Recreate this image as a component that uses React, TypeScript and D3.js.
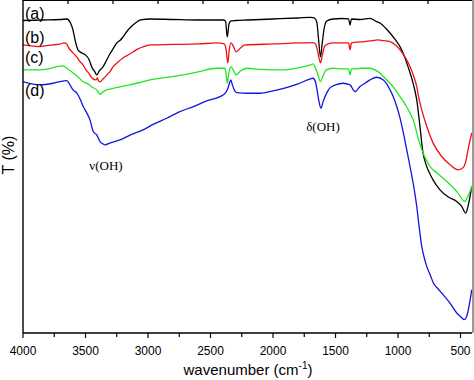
import React from 'react';
import * as d3 from 'd3';

const WIDTH = 474;
const HEIGHT = 380;

// x ticks (wavenumber, cm-1)
const majorTicks = [4000, 3500, 3000, 2500, 2000, 1500, 1000, 500];
const minorTicks = [3750, 3250, 2750, 2250, 1750, 1250, 750];
const topTicks = [1, 2, 3, 4, 5, 6, 7, 8, 9];

const seriesLabels = ['(a)', '(b)', '(c)', '(d)'];
const seriesColors = ['#000000', '#ee1111', '#22e622', '#1414dc'];

// [wavenumber, T (arb. %)]
const seriesA: [number, number][] = [
  [4000, 93.85], [3850, 94.0], [3700, 94.15], [3650, 94.3], [3620, 93.1], [3600, 91.0], [3580, 87.4],
  [3560, 85.0], [3530, 84.1], [3500, 83.5], [3470, 82.0], [3450, 79.9], [3425, 78.4], [3410, 77.5],
  [3390, 78.7], [3360, 79.9], [3330, 82.0], [3300, 84.1], [3275, 85.6], [3250, 87.1], [3220, 88.0],
  [3200, 88.9], [3160, 91.0], [3120, 92.5], [3090, 93.4], [3060, 94.0], [2980, 94.3], [2800, 94.15],
  [2600, 94.0], [2400, 94.0], [2380, 93.7], [2366, 88.9], [2352, 92.8], [2336, 93.7], [2300, 93.85],
  [2200, 94.0], [2000, 94.3], [1800, 94.6], [1700, 94.8], [1670, 94.6], [1650, 93.4], [1635, 88.0],
  [1620, 82.9], [1605, 87.4], [1590, 91.6], [1570, 93.7], [1520, 94.3], [1450, 94.45], [1395, 94.3],
  [1384, 92.5], [1372, 94.3], [1300, 94.15], [1224, 94.5], [1170, 93.5], [1144, 93.1], [1100, 91.6],
  [1064, 90.1], [1020, 88.0], [984, 86.0], [950, 83.2], [920, 80.0], [880, 75.1], [850, 70.0],
  [824, 61.9], [800, 54.1], [780, 51.1], [760, 49.0], [720, 46.0], [664, 43.0], [600, 40.9],
  [530, 39.5], [490, 38.0], [458, 36.0], [440, 38.0], [410, 44.0],
];

const seriesB: [number, number][] = [
  [4000, 86.5], [3900, 86.05], [3864, 86.0], [3800, 86.35], [3760, 86.5], [3700, 86.8], [3672, 87.1],
  [3650, 86.8], [3640, 86.0], [3600, 84.1], [3570, 82.9], [3544, 81.5], [3520, 80.5], [3496, 79.0],
  [3470, 77.8], [3448, 76.6], [3416, 76.0], [3405, 76.6], [3395, 75.7], [3384, 75.4], [3360, 76.3],
  [3328, 77.5], [3300, 78.7], [3280, 79.9], [3240, 81.4], [3200, 82.6], [3160, 83.5], [3120, 84.4],
  [3080, 85.3], [3040, 85.9], [2984, 86.5], [2800, 86.65], [2600, 86.8], [2450, 87.1], [2390, 86.8],
  [2375, 85.0], [2362, 81.1], [2350, 85.0], [2336, 87.1], [2315, 85.9], [2296, 84.4], [2260, 85.6],
  [2224, 86.5], [2000, 86.8], [1800, 87.1], [1680, 87.2], [1660, 86.8], [1645, 85.0], [1632, 82.6],
  [1620, 81.1], [1605, 83.5], [1585, 86.2], [1560, 86.8], [1520, 87.1], [1440, 87.1], [1395, 87.1],
  [1384, 85.0], [1372, 87.1], [1300, 87.4], [1224, 87.7], [1160, 88.0], [1120, 87.8], [1064, 87.5],
  [1020, 86.5], [984, 85.0], [940, 82.6], [904, 80.0], [870, 76.6], [850, 74.0], [830, 70.0],
  [810, 67.0], [770, 62.0], [720, 57.1], [650, 53.0], [584, 50.5], [520, 49.0], [480, 49.6],
  [455, 52.0], [440, 55.0], [410, 60.1],
];

const seriesC: [number, number][] = [
  [4000, 79.0], [3864, 79.0], [3800, 79.3], [3730, 80.0], [3680, 80.2], [3650, 79.5], [3600, 78.1],
  [3560, 76.9], [3520, 75.5], [3480, 74.8], [3450, 73.9], [3410, 73.0], [3384, 71.7], [3360, 72.4],
  [3330, 73.0], [3280, 73.45], [3224, 73.9], [3150, 74.5], [3090, 75.0], [2984, 76.0], [2850, 76.75],
  [2717, 77.5], [2600, 78.4], [2450, 79.5], [2384, 79.5], [2375, 77.8], [2366, 75.0], [2352, 78.4],
  [2336, 80.0], [2315, 78.7], [2296, 77.5], [2260, 78.7], [2210, 79.5], [2100, 79.15], [1920, 79.0],
  [1800, 79.6], [1700, 80.5], [1680, 80.8], [1660, 79.6], [1640, 77.5], [1620, 75.5], [1600, 77.2],
  [1575, 79.0], [1520, 79.5], [1440, 79.3], [1395, 79.3], [1384, 77.5], [1372, 79.3], [1340, 79.3],
  [1300, 79.5], [1224, 79.5], [1170, 78.7], [1144, 78.0], [1106, 76.6], [1064, 75.0], [1020, 73.0],
  [984, 71.0], [940, 68.5], [904, 66.1], [870, 63.1], [850, 60.1], [820, 56.2], [800, 54.1],
  [770, 51.7], [744, 50.0], [690, 48.1], [610, 45.5], [530, 42.5], [464, 39.5], [440, 41.2],
  [424, 42.5], [402, 44.5],
];

const seriesD: [number, number][] = [
  [4000, 75.5], [3864, 74.5], [3760, 75.0], [3704, 75.5], [3650, 75.8], [3624, 74.5], [3600, 73.0],
  [3570, 72.1], [3540, 70.0], [3518, 68.0], [3490, 66.1], [3464, 64.0], [3438, 60.5], [3410, 59.5],
  [3384, 57.5], [3360, 56.8], [3344, 56.5], [3300, 57.1], [3224, 58.0], [3140, 59.5], [3040, 61.0],
  [2950, 62.8], [2850, 64.5], [2750, 66.4], [2637, 68.0], [2530, 69.7], [2424, 71.0], [2380, 72.1],
  [2360, 73.6], [2345, 75.4], [2338, 76.0], [2325, 74.5], [2310, 73.0], [2290, 72.2], [2200, 72.0],
  [2104, 72.0], [2000, 72.7], [1900, 73.6], [1800, 74.8], [1700, 76.3], [1680, 76.5], [1660, 75.4],
  [1645, 72.4], [1630, 69.1], [1616, 67.5], [1600, 69.4], [1570, 72.1], [1544, 73.6], [1500, 74.5],
  [1440, 75.0], [1384, 74.5], [1344, 72.5], [1304, 74.0], [1260, 75.1], [1224, 76.0], [1170, 76.8],
  [1117, 76.0], [1090, 74.8], [1064, 73.0], [1040, 71.2], [1010, 68.0], [984, 64.6], [957, 60.1],
  [930, 55.0], [904, 50.0], [875, 44.2], [850, 38.0], [830, 31.6], [810, 26.0], [790, 22.6],
  [770, 20.0], [740, 17.2], [717, 15.0], [680, 13.3], [650, 12.0], [584, 9.0], [530, 6.0],
  [490, 4.6], [472, 4.0], [455, 4.6], [437, 7.0], [420, 10.6], [410, 13.0],
];

const allSeries = [seriesA, seriesB, seriesC, seriesD];

const labelPos = [
  { x: 25, y: 19 },
  { x: 25, y: 43 },
  { x: 25, y: 63 },
  { x: 25, y: 96 },
];

export default function App() {
  const left = 23;
  const right = 472;
  const top = 0;
  const bottom = 333;

  const x = d3.scaleLinear().domain([4000, 408]).range([left, right]);
  const xTop = d3.scaleLinear().domain([0, 10]).range([left, left + 450]);
  const y = d3.scaleLinear().domain([0, 100]).range([bottom, top]);

  const line = d3
    .line<[number, number]>()
    .x((d) => x(d[0]))
    .y((d) => y(d[1]))
    .curve(d3.curveMonotoneX);

  const sans = 'Liberation Sans, Arial, sans-serif';
  const serif = 'Liberation Serif, Times New Roman, serif';

  return (
    <svg
      width={WIDTH}
      height={HEIGHT}
      style={{ position: 'absolute', left: 0, top: 0, background: '#fff' }}
    >
      <rect x={0} y={0} width={WIDTH} height={HEIGHT} fill="#fff" />
      <defs>
        <clipPath id="plotclip">
          <rect x={left} y={top} width={right - left} height={bottom - top} />
        </clipPath>
      </defs>

      <g clipPath="url(#plotclip)">
        {allSeries.map((s, i) => (
          <path
            key={i}
            d={line(s) || ''}
            fill="none"
            stroke={seriesColors[i]}
            strokeWidth={1.3}
            strokeLinejoin="round"
          />
        ))}
      </g>

      {/* frame */}
      <line x1={left} x2={left} y1={top} y2={bottom} stroke="#000" strokeWidth={1.4} />
      <line x1={left} x2={right} y1={bottom} y2={bottom} stroke="#000" strokeWidth={1.4} />
      <line x1={left} x2={right} y1={top + 0.5} y2={top + 0.5} stroke="#000" strokeWidth={1} />
      <line x1={right + 1} x2={right + 1} y1={top} y2={bottom} stroke="#999" strokeWidth={2} />

      {/* bottom ticks */}
      {majorTicks.map((t) => (
        <g key={'M' + t}>
          <line x1={x(t)} x2={x(t)} y1={bottom} y2={bottom + 5} stroke="#000" strokeWidth={1.2} />
          <text
            x={x(t)}
            y={355}
            textAnchor="middle"
            fontFamily={sans}
            fontSize={12}
            fill="#000"
          >
            {t}
          </text>
        </g>
      ))}
      {minorTicks.map((t) => (
        <line key={'m' + t} x1={x(t)} x2={x(t)} y1={bottom} y2={bottom + 4} stroke="#000" strokeWidth={1.2} />
      ))}

      {/* top ticks */}
      {topTicks.map((t) => (
        <line key={'t' + t} x1={xTop(t)} x2={xTop(t)} y1={top} y2={top + 4} stroke="#000" strokeWidth={1.2} />
      ))}

      {/* axis labels */}
      <text x={248} y={375} textAnchor="middle" fontFamily={sans} fontSize={15} fill="#000">
        wavenumber (cm
        <tspan dy={-6} fontSize={10}>-1</tspan>
        <tspan dy={6}>)</tspan>
      </text>
      <text
        transform="translate(14,155) rotate(-90)"
        textAnchor="middle"
        fontFamily={sans}
        fontSize={16}
        fill="#000"
      >
        T (%)
      </text>

      {/* series labels */}
      {seriesLabels.map((l, i) => (
        <text key={l} x={labelPos[i].x} y={labelPos[i].y} fontFamily={sans} fontSize={16} fill="#000">
          {l}
        </text>
      ))}

      {/* band annotations */}
      <text x={106} y={170} textAnchor="middle" fontFamily={serif} fontSize={13} fill="#000">
        ν(OH)
      </text>
      <text x={323} y={131} textAnchor="middle" fontFamily={serif} fontSize={13} fill="#000">
        δ(OH)
      </text>
    </svg>
  );
}
